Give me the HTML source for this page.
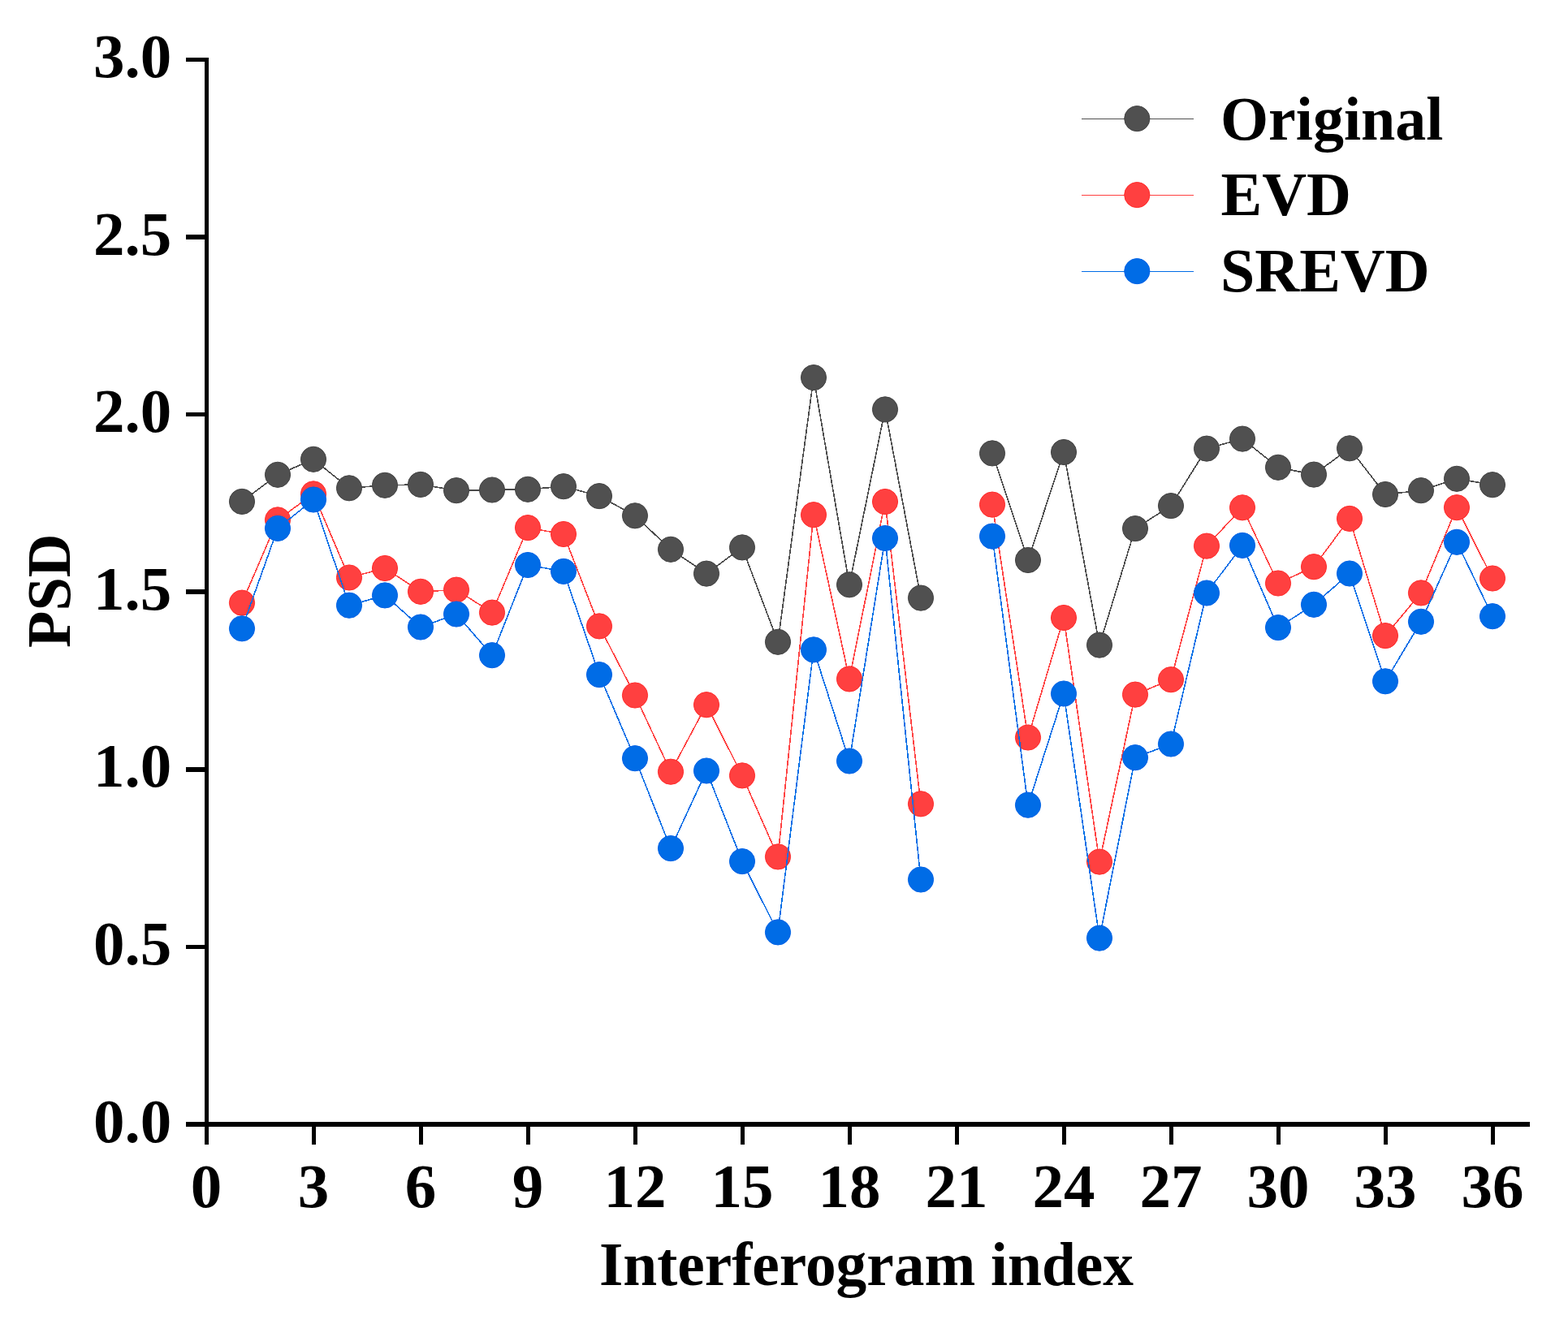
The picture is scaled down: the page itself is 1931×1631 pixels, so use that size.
<!DOCTYPE html>
<html><head><meta charset="utf-8"><title>PSD chart</title>
<style>html,body{margin:0;padding:0;background:#fff;} svg{display:block;}</style>
</head><body>
<svg width="1931" height="1631" viewBox="0 0 1931 1631">
<rect width="1931" height="1631" fill="#fff"/>
<g fill="#000" shape-rendering="crispEdges">
<rect x="252" y="71" width="5" height="1317"/>
<rect x="252" y="1382" width="1632" height="6"/>
<rect x="229" y="1382" width="28" height="6"/>
<rect x="229" y="1164" width="28" height="5"/>
<rect x="229" y="945" width="28" height="6"/>
<rect x="229" y="726" width="28" height="6"/>
<rect x="229" y="508" width="28" height="5"/>
<rect x="229" y="289" width="28" height="6"/>
<rect x="229" y="71" width="28" height="5"/>
<rect x="252" y="1382" width="5" height="28"/>
<rect x="384" y="1382" width="5" height="28"/>
<rect x="516" y="1382" width="5" height="28"/>
<rect x="648" y="1382" width="5" height="28"/>
<rect x="780" y="1382" width="5" height="28"/>
<rect x="912" y="1382" width="5" height="28"/>
<rect x="1044" y="1382" width="5" height="28"/>
<rect x="1176" y="1382" width="5" height="28"/>
<rect x="1308" y="1382" width="5" height="28"/>
<rect x="1440" y="1382" width="5" height="28"/>
<rect x="1572" y="1382" width="5" height="28"/>
<rect x="1704" y="1382" width="5" height="28"/>
<rect x="1836" y="1382" width="5" height="28"/>
</g>
<g font-family="&quot;Liberation Serif&quot;, serif" font-weight="bold" font-size="77" fill="#000" text-anchor="end">
<text x="211.3" y="1406.6">0.0</text>
<text x="211.3" y="1188.0">0.5</text>
<text x="211.3" y="969.4">1.0</text>
<text x="211.3" y="750.8">1.5</text>
<text x="211.3" y="532.3">2.0</text>
<text x="211.3" y="313.7">2.5</text>
<text x="211.3" y="95.1">3.0</text>
</g>
<g font-family="&quot;Liberation Serif&quot;, serif" font-weight="bold" font-size="77" fill="#000" text-anchor="middle">
<text x="254.0" y="1487.2">0</text>
<text x="386.0" y="1487.2">3</text>
<text x="518.0" y="1487.2">6</text>
<text x="650.0" y="1487.2">9</text>
<text x="782.0" y="1487.2">12</text>
<text x="914.0" y="1487.2">15</text>
<text x="1046.0" y="1487.2">18</text>
<text x="1178.0" y="1487.2">21</text>
<text x="1310.0" y="1487.2">24</text>
<text x="1442.0" y="1487.2">27</text>
<text x="1574.0" y="1487.2">30</text>
<text x="1706.0" y="1487.2">33</text>
<text x="1838.0" y="1487.2">36</text>
</g>
<text font-family="&quot;Liberation Serif&quot;, serif" font-weight="bold" font-size="76" x="738" y="1582.9" textLength="658" lengthAdjust="spacingAndGlyphs">Interferogram index</text>
<text font-family="&quot;Liberation Serif&quot;, serif" font-weight="bold" font-size="77" transform="translate(86.3,798) rotate(-90)" textLength="140.5" lengthAdjust="spacingAndGlyphs">PSD</text>
<polyline points="298.0,617.9 342.0,584.8 386.0,565.8 430.0,601.3 474.0,597.8 518.0,596.9 562.0,604.2 606.0,603.5 650.0,602.8 694.0,599.2 738.0,611.1 782.0,635.3 826.0,676.8 870.0,706.6 914.0,674.4 958.0,790.8 1002.0,465.1 1046.0,720.3 1090.0,504.4 1134.0,736.6" fill="none" stroke="#4a4a4a" stroke-width="1.6" stroke-linejoin="round" shape-rendering="crispEdges"/>
<polyline points="1222.0,558.4 1266.0,690.0 1310.0,557.0 1354.0,794.6 1398.0,651.1 1442.0,623.1 1486.0,552.6 1530.0,540.6 1574.0,575.8 1618.0,584.6 1662.0,552.3 1706.0,609.0 1750.0,604.2 1794.0,589.8 1838.0,597.2" fill="none" stroke="#4a4a4a" stroke-width="1.6" stroke-linejoin="round" shape-rendering="crispEdges"/>
<circle cx="298.0" cy="617.9" r="15.6" fill="#505050" stroke="#444444" stroke-width="1"/>
<circle cx="342.0" cy="584.8" r="15.6" fill="#505050" stroke="#444444" stroke-width="1"/>
<circle cx="386.0" cy="565.8" r="15.6" fill="#505050" stroke="#444444" stroke-width="1"/>
<circle cx="430.0" cy="601.3" r="15.6" fill="#505050" stroke="#444444" stroke-width="1"/>
<circle cx="474.0" cy="597.8" r="15.6" fill="#505050" stroke="#444444" stroke-width="1"/>
<circle cx="518.0" cy="596.9" r="15.6" fill="#505050" stroke="#444444" stroke-width="1"/>
<circle cx="562.0" cy="604.2" r="15.6" fill="#505050" stroke="#444444" stroke-width="1"/>
<circle cx="606.0" cy="603.5" r="15.6" fill="#505050" stroke="#444444" stroke-width="1"/>
<circle cx="650.0" cy="602.8" r="15.6" fill="#505050" stroke="#444444" stroke-width="1"/>
<circle cx="694.0" cy="599.2" r="15.6" fill="#505050" stroke="#444444" stroke-width="1"/>
<circle cx="738.0" cy="611.1" r="15.6" fill="#505050" stroke="#444444" stroke-width="1"/>
<circle cx="782.0" cy="635.3" r="15.6" fill="#505050" stroke="#444444" stroke-width="1"/>
<circle cx="826.0" cy="676.8" r="15.6" fill="#505050" stroke="#444444" stroke-width="1"/>
<circle cx="870.0" cy="706.6" r="15.6" fill="#505050" stroke="#444444" stroke-width="1"/>
<circle cx="914.0" cy="674.4" r="15.6" fill="#505050" stroke="#444444" stroke-width="1"/>
<circle cx="958.0" cy="790.8" r="15.6" fill="#505050" stroke="#444444" stroke-width="1"/>
<circle cx="1002.0" cy="465.1" r="15.6" fill="#505050" stroke="#444444" stroke-width="1"/>
<circle cx="1046.0" cy="720.3" r="15.6" fill="#505050" stroke="#444444" stroke-width="1"/>
<circle cx="1090.0" cy="504.4" r="15.6" fill="#505050" stroke="#444444" stroke-width="1"/>
<circle cx="1134.0" cy="736.6" r="15.6" fill="#505050" stroke="#444444" stroke-width="1"/>
<circle cx="1222.0" cy="558.4" r="15.6" fill="#505050" stroke="#444444" stroke-width="1"/>
<circle cx="1266.0" cy="690.0" r="15.6" fill="#505050" stroke="#444444" stroke-width="1"/>
<circle cx="1310.0" cy="557.0" r="15.6" fill="#505050" stroke="#444444" stroke-width="1"/>
<circle cx="1354.0" cy="794.6" r="15.6" fill="#505050" stroke="#444444" stroke-width="1"/>
<circle cx="1398.0" cy="651.1" r="15.6" fill="#505050" stroke="#444444" stroke-width="1"/>
<circle cx="1442.0" cy="623.1" r="15.6" fill="#505050" stroke="#444444" stroke-width="1"/>
<circle cx="1486.0" cy="552.6" r="15.6" fill="#505050" stroke="#444444" stroke-width="1"/>
<circle cx="1530.0" cy="540.6" r="15.6" fill="#505050" stroke="#444444" stroke-width="1"/>
<circle cx="1574.0" cy="575.8" r="15.6" fill="#505050" stroke="#444444" stroke-width="1"/>
<circle cx="1618.0" cy="584.6" r="15.6" fill="#505050" stroke="#444444" stroke-width="1"/>
<circle cx="1662.0" cy="552.3" r="15.6" fill="#505050" stroke="#444444" stroke-width="1"/>
<circle cx="1706.0" cy="609.0" r="15.6" fill="#505050" stroke="#444444" stroke-width="1"/>
<circle cx="1750.0" cy="604.2" r="15.6" fill="#505050" stroke="#444444" stroke-width="1"/>
<circle cx="1794.0" cy="589.8" r="15.6" fill="#505050" stroke="#444444" stroke-width="1"/>
<circle cx="1838.0" cy="597.2" r="15.6" fill="#505050" stroke="#444444" stroke-width="1"/>
<polyline points="298.0,742.6 342.0,640.4 386.0,608.4 430.0,711.5 474.0,700.0 518.0,728.8 562.0,726.6 606.0,754.6 650.0,650.1 694.0,658.0 738.0,771.4 782.0,856.5 826.0,950.7 870.0,868.2 914.0,955.4 958.0,1055.4 1002.0,634.2 1046.0,836.4 1090.0,618.0 1134.0,990.3" fill="none" stroke="#ff4040" stroke-width="1.6" stroke-linejoin="round" shape-rendering="crispEdges"/>
<polyline points="1222.0,621.6 1266.0,908.5 1310.0,761.0 1354.0,1061.6 1398.0,855.6 1442.0,837.2 1486.0,672.6 1530.0,625.3 1574.0,718.5 1618.0,698.2 1662.0,638.9 1706.0,783.1 1750.0,730.4 1794.0,625.2 1838.0,712.5" fill="none" stroke="#ff4040" stroke-width="1.6" stroke-linejoin="round" shape-rendering="crispEdges"/>
<circle cx="298.0" cy="742.6" r="15.6" fill="#ff4040" stroke="#ff2c2c" stroke-width="1"/>
<circle cx="342.0" cy="640.4" r="15.6" fill="#ff4040" stroke="#ff2c2c" stroke-width="1"/>
<circle cx="386.0" cy="608.4" r="15.6" fill="#ff4040" stroke="#ff2c2c" stroke-width="1"/>
<circle cx="430.0" cy="711.5" r="15.6" fill="#ff4040" stroke="#ff2c2c" stroke-width="1"/>
<circle cx="474.0" cy="700.0" r="15.6" fill="#ff4040" stroke="#ff2c2c" stroke-width="1"/>
<circle cx="518.0" cy="728.8" r="15.6" fill="#ff4040" stroke="#ff2c2c" stroke-width="1"/>
<circle cx="562.0" cy="726.6" r="15.6" fill="#ff4040" stroke="#ff2c2c" stroke-width="1"/>
<circle cx="606.0" cy="754.6" r="15.6" fill="#ff4040" stroke="#ff2c2c" stroke-width="1"/>
<circle cx="650.0" cy="650.1" r="15.6" fill="#ff4040" stroke="#ff2c2c" stroke-width="1"/>
<circle cx="694.0" cy="658.0" r="15.6" fill="#ff4040" stroke="#ff2c2c" stroke-width="1"/>
<circle cx="738.0" cy="771.4" r="15.6" fill="#ff4040" stroke="#ff2c2c" stroke-width="1"/>
<circle cx="782.0" cy="856.5" r="15.6" fill="#ff4040" stroke="#ff2c2c" stroke-width="1"/>
<circle cx="826.0" cy="950.7" r="15.6" fill="#ff4040" stroke="#ff2c2c" stroke-width="1"/>
<circle cx="870.0" cy="868.2" r="15.6" fill="#ff4040" stroke="#ff2c2c" stroke-width="1"/>
<circle cx="914.0" cy="955.4" r="15.6" fill="#ff4040" stroke="#ff2c2c" stroke-width="1"/>
<circle cx="958.0" cy="1055.4" r="15.6" fill="#ff4040" stroke="#ff2c2c" stroke-width="1"/>
<circle cx="1002.0" cy="634.2" r="15.6" fill="#ff4040" stroke="#ff2c2c" stroke-width="1"/>
<circle cx="1046.0" cy="836.4" r="15.6" fill="#ff4040" stroke="#ff2c2c" stroke-width="1"/>
<circle cx="1090.0" cy="618.0" r="15.6" fill="#ff4040" stroke="#ff2c2c" stroke-width="1"/>
<circle cx="1134.0" cy="990.3" r="15.6" fill="#ff4040" stroke="#ff2c2c" stroke-width="1"/>
<circle cx="1222.0" cy="621.6" r="15.6" fill="#ff4040" stroke="#ff2c2c" stroke-width="1"/>
<circle cx="1266.0" cy="908.5" r="15.6" fill="#ff4040" stroke="#ff2c2c" stroke-width="1"/>
<circle cx="1310.0" cy="761.0" r="15.6" fill="#ff4040" stroke="#ff2c2c" stroke-width="1"/>
<circle cx="1354.0" cy="1061.6" r="15.6" fill="#ff4040" stroke="#ff2c2c" stroke-width="1"/>
<circle cx="1398.0" cy="855.6" r="15.6" fill="#ff4040" stroke="#ff2c2c" stroke-width="1"/>
<circle cx="1442.0" cy="837.2" r="15.6" fill="#ff4040" stroke="#ff2c2c" stroke-width="1"/>
<circle cx="1486.0" cy="672.6" r="15.6" fill="#ff4040" stroke="#ff2c2c" stroke-width="1"/>
<circle cx="1530.0" cy="625.3" r="15.6" fill="#ff4040" stroke="#ff2c2c" stroke-width="1"/>
<circle cx="1574.0" cy="718.5" r="15.6" fill="#ff4040" stroke="#ff2c2c" stroke-width="1"/>
<circle cx="1618.0" cy="698.2" r="15.6" fill="#ff4040" stroke="#ff2c2c" stroke-width="1"/>
<circle cx="1662.0" cy="638.9" r="15.6" fill="#ff4040" stroke="#ff2c2c" stroke-width="1"/>
<circle cx="1706.0" cy="783.1" r="15.6" fill="#ff4040" stroke="#ff2c2c" stroke-width="1"/>
<circle cx="1750.0" cy="730.4" r="15.6" fill="#ff4040" stroke="#ff2c2c" stroke-width="1"/>
<circle cx="1794.0" cy="625.2" r="15.6" fill="#ff4040" stroke="#ff2c2c" stroke-width="1"/>
<circle cx="1838.0" cy="712.5" r="15.6" fill="#ff4040" stroke="#ff2c2c" stroke-width="1"/>
<polyline points="298.0,774.3 342.0,650.9 386.0,615.5 430.0,745.7 474.0,733.4 518.0,772.5 562.0,756.5 606.0,807.2 650.0,696.0 694.0,703.9 738.0,831.1 782.0,934.2 826.0,1045.1 870.0,949.5 914.0,1061.1 958.0,1148.4 1002.0,800.4 1046.0,937.5 1090.0,663.0 1134.0,1083.5" fill="none" stroke="#006ce6" stroke-width="1.6" stroke-linejoin="round" shape-rendering="crispEdges"/>
<polyline points="1222.0,660.6 1266.0,991.7 1310.0,854.5 1354.0,1155.6 1398.0,933.2 1442.0,916.5 1486.0,730.5 1530.0,671.9 1574.0,773.1 1618.0,744.8 1662.0,706.5 1706.0,839.3 1750.0,765.8 1794.0,667.8 1838.0,759.2" fill="none" stroke="#006ce6" stroke-width="1.6" stroke-linejoin="round" shape-rendering="crispEdges"/>
<circle cx="298.0" cy="774.3" r="15.6" fill="#006ce6" stroke="#0062e6" stroke-width="1"/>
<circle cx="342.0" cy="650.9" r="15.6" fill="#006ce6" stroke="#0062e6" stroke-width="1"/>
<circle cx="386.0" cy="615.5" r="15.6" fill="#006ce6" stroke="#0062e6" stroke-width="1"/>
<circle cx="430.0" cy="745.7" r="15.6" fill="#006ce6" stroke="#0062e6" stroke-width="1"/>
<circle cx="474.0" cy="733.4" r="15.6" fill="#006ce6" stroke="#0062e6" stroke-width="1"/>
<circle cx="518.0" cy="772.5" r="15.6" fill="#006ce6" stroke="#0062e6" stroke-width="1"/>
<circle cx="562.0" cy="756.5" r="15.6" fill="#006ce6" stroke="#0062e6" stroke-width="1"/>
<circle cx="606.0" cy="807.2" r="15.6" fill="#006ce6" stroke="#0062e6" stroke-width="1"/>
<circle cx="650.0" cy="696.0" r="15.6" fill="#006ce6" stroke="#0062e6" stroke-width="1"/>
<circle cx="694.0" cy="703.9" r="15.6" fill="#006ce6" stroke="#0062e6" stroke-width="1"/>
<circle cx="738.0" cy="831.1" r="15.6" fill="#006ce6" stroke="#0062e6" stroke-width="1"/>
<circle cx="782.0" cy="934.2" r="15.6" fill="#006ce6" stroke="#0062e6" stroke-width="1"/>
<circle cx="826.0" cy="1045.1" r="15.6" fill="#006ce6" stroke="#0062e6" stroke-width="1"/>
<circle cx="870.0" cy="949.5" r="15.6" fill="#006ce6" stroke="#0062e6" stroke-width="1"/>
<circle cx="914.0" cy="1061.1" r="15.6" fill="#006ce6" stroke="#0062e6" stroke-width="1"/>
<circle cx="958.0" cy="1148.4" r="15.6" fill="#006ce6" stroke="#0062e6" stroke-width="1"/>
<circle cx="1002.0" cy="800.4" r="15.6" fill="#006ce6" stroke="#0062e6" stroke-width="1"/>
<circle cx="1046.0" cy="937.5" r="15.6" fill="#006ce6" stroke="#0062e6" stroke-width="1"/>
<circle cx="1090.0" cy="663.0" r="15.6" fill="#006ce6" stroke="#0062e6" stroke-width="1"/>
<circle cx="1134.0" cy="1083.5" r="15.6" fill="#006ce6" stroke="#0062e6" stroke-width="1"/>
<circle cx="1222.0" cy="660.6" r="15.6" fill="#006ce6" stroke="#0062e6" stroke-width="1"/>
<circle cx="1266.0" cy="991.7" r="15.6" fill="#006ce6" stroke="#0062e6" stroke-width="1"/>
<circle cx="1310.0" cy="854.5" r="15.6" fill="#006ce6" stroke="#0062e6" stroke-width="1"/>
<circle cx="1354.0" cy="1155.6" r="15.6" fill="#006ce6" stroke="#0062e6" stroke-width="1"/>
<circle cx="1398.0" cy="933.2" r="15.6" fill="#006ce6" stroke="#0062e6" stroke-width="1"/>
<circle cx="1442.0" cy="916.5" r="15.6" fill="#006ce6" stroke="#0062e6" stroke-width="1"/>
<circle cx="1486.0" cy="730.5" r="15.6" fill="#006ce6" stroke="#0062e6" stroke-width="1"/>
<circle cx="1530.0" cy="671.9" r="15.6" fill="#006ce6" stroke="#0062e6" stroke-width="1"/>
<circle cx="1574.0" cy="773.1" r="15.6" fill="#006ce6" stroke="#0062e6" stroke-width="1"/>
<circle cx="1618.0" cy="744.8" r="15.6" fill="#006ce6" stroke="#0062e6" stroke-width="1"/>
<circle cx="1662.0" cy="706.5" r="15.6" fill="#006ce6" stroke="#0062e6" stroke-width="1"/>
<circle cx="1706.0" cy="839.3" r="15.6" fill="#006ce6" stroke="#0062e6" stroke-width="1"/>
<circle cx="1750.0" cy="765.8" r="15.6" fill="#006ce6" stroke="#0062e6" stroke-width="1"/>
<circle cx="1794.0" cy="667.8" r="15.6" fill="#006ce6" stroke="#0062e6" stroke-width="1"/>
<circle cx="1838.0" cy="759.2" r="15.6" fill="#006ce6" stroke="#0062e6" stroke-width="1"/>
<rect x="1332" y="146.0" width="138" height="1" fill="#505050"/>
<circle cx="1400.3" cy="146.1" r="15.6" fill="#505050" stroke="#444444" stroke-width="1"/>
<rect x="1332" y="240.0" width="138" height="1" fill="#ff4040"/>
<circle cx="1400.3" cy="240.1" r="15.6" fill="#ff4040" stroke="#ff2c2c" stroke-width="1"/>
<rect x="1332" y="334.0" width="138" height="1" fill="#006ce6"/>
<circle cx="1400.3" cy="334.1" r="15.6" fill="#006ce6" stroke="#0062e6" stroke-width="1"/>
<g font-family="&quot;Liberation Serif&quot;, serif" font-weight="bold" font-size="76" fill="#000">
<text x="1503" y="171.8">Original</text>
<text x="1503.5" y="264.8">EVD</text>
<text x="1503" y="358.8">SREVD</text>
</g>
</svg>
</body></html>
